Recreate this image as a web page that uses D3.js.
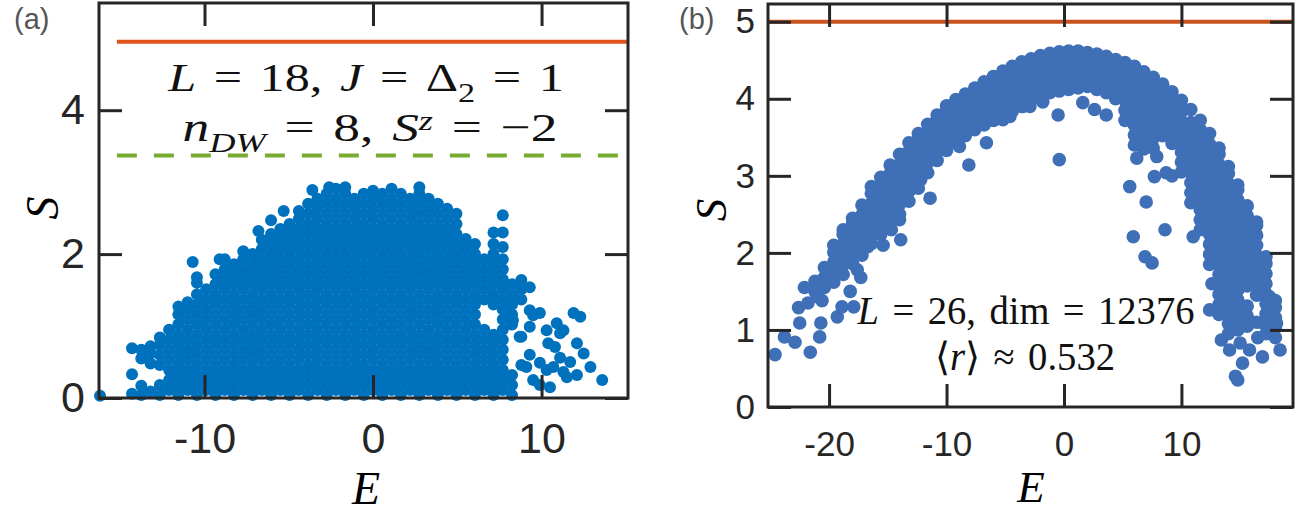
<!DOCTYPE html>
<html>
<head>
<meta charset="utf-8">
<script src="https://cdn.jsdelivr.net/npm/d3@7"></script>
<style>
  body { margin: 0; background: #fff; }
</style>
</head>
<body>
<div id="chart"></div>
<script>
// ---------- panel (a) : L = 18 ----------
// columns of eigenstates: [E, [S values]]
const aColumns = [
  [-14.3, [0.06, 0.33, 0.69]],
  [-13.75, [0.04, 0.17, 0.55, 0.67]],
  [-13.2, [0.09, 0.48, 0.62, 0.72]],
  [-12.65, [0.04, 0.18, 0.46, 0.6, 0.74, 0.84]],
  [-12.1, [0.11, 0.25, 0.39, 0.53, 0.67, 0.81, 0.95]],
  [-11.55, [0.04, 0.18, 0.32, 0.46, 0.6, 0.74, 0.88, 1.02, 1.16, 1.27]],
  [-11.0, [0.11, 0.25, 0.39, 0.53, 0.67, 0.81, 0.95, 1.09, 1.23, 1.33]],
  [-10.45, [0.04, 0.18, 0.32, 0.46, 0.6, 0.74, 0.88, 1.02, 1.16, 1.3, 1.44, 1.6, 1.68]],
  [-9.9, [0.11, 0.25, 0.39, 0.53, 0.67, 0.81, 0.95, 1.09, 1.23, 1.37, 1.51]],
  [-9.35, [0.04, 0.18, 0.32, 0.46, 0.6, 0.74, 0.88, 1.02, 1.16, 1.3, 1.44, 1.58, 1.72]],
  [-8.8, [0.11, 0.25, 0.39, 0.53, 0.67, 0.81, 0.95, 1.09, 1.23, 1.37, 1.51, 1.65, 1.79, 1.93]],
  [-8.25, [0.04, 0.18, 0.32, 0.46, 0.6, 0.74, 0.88, 1.02, 1.16, 1.3, 1.44, 1.58, 1.72, 1.86]],
  [-7.7, [0.11, 0.25, 0.39, 0.53, 0.67, 0.81, 0.95, 1.09, 1.23, 1.37, 1.51, 1.65, 1.79, 1.93, 2.04]],
  [-7.15, [0.04, 0.18, 0.32, 0.46, 0.6, 0.74, 0.88, 1.02, 1.16, 1.3, 1.44, 1.58, 1.72, 1.86, 2.0]],
  [-6.6, [0.11, 0.25, 0.39, 0.53, 0.67, 0.81, 0.95, 1.09, 1.23, 1.37, 1.51, 1.65, 1.79, 1.93, 2.07, 2.2]],
  [-6.05, [0.04, 0.18, 0.32, 0.46, 0.6, 0.74, 0.88, 1.02, 1.16, 1.3, 1.44, 1.58, 1.72, 1.86, 2.0, 2.14, 2.28, 2.47]],
  [-5.5, [0.11, 0.25, 0.39, 0.53, 0.67, 0.81, 0.95, 1.09, 1.23, 1.37, 1.51, 1.65, 1.79, 1.93, 2.07, 2.21, 2.35]],
  [-4.95, [0.04, 0.18, 0.32, 0.46, 0.6, 0.74, 0.88, 1.02, 1.16, 1.3, 1.44, 1.58, 1.72, 1.86, 2.0, 2.14, 2.28, 2.42]],
  [-4.4, [0.11, 0.25, 0.39, 0.53, 0.67, 0.81, 0.95, 1.09, 1.23, 1.37, 1.51, 1.65, 1.79, 1.93, 2.07, 2.21, 2.35, 2.49, 2.6]],
  [-3.85, [0.04, 0.18, 0.32, 0.46, 0.6, 0.74, 0.88, 1.02, 1.16, 1.3, 1.44, 1.58, 1.72, 1.86, 2.0, 2.14, 2.28, 2.42, 2.56, 2.7]],
  [-3.3, [0.11, 0.25, 0.39, 0.53, 0.67, 0.81, 0.95, 1.09, 1.23, 1.37, 1.51, 1.65, 1.79, 1.93, 2.07, 2.21, 2.35, 2.49, 2.63, 2.77]],
  [-2.75, [0.04, 0.18, 0.32, 0.46, 0.6, 0.74, 0.88, 1.02, 1.16, 1.3, 1.44, 1.58, 1.72, 1.86, 2.0, 2.14, 2.28, 2.42, 2.56, 2.7, 2.84]],
  [-2.2, [0.11, 0.25, 0.39, 0.53, 0.67, 0.81, 0.95, 1.09, 1.23, 1.37, 1.51, 1.65, 1.79, 1.93, 2.07, 2.21, 2.35, 2.49, 2.63, 2.77, 2.91]],
  [-1.65, [0.04, 0.18, 0.32, 0.46, 0.6, 0.74, 0.88, 1.02, 1.16, 1.3, 1.44, 1.58, 1.72, 1.86, 2.0, 2.14, 2.28, 2.42, 2.56, 2.7, 2.84, 2.93]],
  [-1.1, [0.11, 0.25, 0.39, 0.53, 0.67, 0.81, 0.95, 1.09, 1.23, 1.37, 1.51, 1.65, 1.79, 1.93, 2.07, 2.21, 2.35, 2.49, 2.63, 2.77]],
  [-0.55, [0.04, 0.18, 0.32, 0.46, 0.6, 0.74, 0.88, 1.02, 1.16, 1.3, 1.44, 1.58, 1.72, 1.86, 2.0, 2.14, 2.28, 2.42, 2.56, 2.7, 2.84]],
  [0.0, [0.11, 0.25, 0.39, 0.53, 0.67, 0.81, 0.95, 1.09, 1.23, 1.37, 1.51, 1.65, 1.79, 1.93, 2.07, 2.21, 2.35, 2.49, 2.63, 2.77, 2.88]],
  [0.55, [0.04, 0.18, 0.32, 0.46, 0.6, 0.74, 0.88, 1.02, 1.16, 1.3, 1.44, 1.58, 1.72, 1.86, 2.0, 2.14, 2.28, 2.42, 2.56, 2.7, 2.84]],
  [1.1, [0.11, 0.25, 0.39, 0.53, 0.67, 0.81, 0.95, 1.09, 1.23, 1.37, 1.51, 1.65, 1.79, 1.93, 2.07, 2.21, 2.35, 2.49, 2.63, 2.77, 2.91]],
  [1.65, [0.04, 0.18, 0.32, 0.46, 0.6, 0.74, 0.88, 1.02, 1.16, 1.3, 1.44, 1.58, 1.72, 1.86, 2.0, 2.14, 2.28, 2.42, 2.56, 2.7, 2.84]],
  [2.2, [0.11, 0.25, 0.39, 0.53, 0.67, 0.81, 0.95, 1.09, 1.23, 1.37, 1.51, 1.65, 1.79, 1.93, 2.07, 2.21, 2.35, 2.49, 2.63, 2.77]],
  [2.75, [0.04, 0.18, 0.32, 0.46, 0.6, 0.74, 0.88, 1.02, 1.16, 1.3, 1.44, 1.58, 1.72, 1.86, 2.0, 2.14, 2.28, 2.42, 2.56, 2.7, 2.84, 2.93]],
  [3.3, [0.11, 0.25, 0.39, 0.53, 0.67, 0.81, 0.95, 1.09, 1.23, 1.37, 1.51, 1.65, 1.79, 1.93, 2.07, 2.21, 2.35, 2.49, 2.63, 2.77]],
  [3.85, [0.04, 0.18, 0.32, 0.46, 0.6, 0.74, 0.88, 1.02, 1.16, 1.3, 1.44, 1.58, 1.72, 1.86, 2.0, 2.14, 2.28, 2.42, 2.56, 2.7]],
  [4.4, [0.11, 0.25, 0.39, 0.53, 0.67, 0.81, 0.95, 1.09, 1.23, 1.37, 1.51, 1.65, 1.79, 1.93, 2.07, 2.21, 2.35, 2.49, 2.63]],
  [4.95, [0.04, 0.18, 0.32, 0.46, 0.6, 0.74, 0.88, 1.02, 1.16, 1.3, 1.44, 1.58, 1.72, 1.86, 2.0, 2.14, 2.28, 2.42, 2.56]],
  [5.5, [0.11, 0.25, 0.39, 0.53, 0.67, 0.81, 0.95, 1.09, 1.23, 1.37, 1.51, 1.65, 1.79, 1.93, 2.07, 2.21]],
  [6.05, [0.04, 0.18, 0.32, 0.46, 0.6, 0.74, 0.88, 1.02, 1.16, 1.3, 1.44, 1.58, 1.72, 1.86, 2.0, 2.14]],
  [6.6, [0.11, 0.25, 0.39, 0.53, 0.67, 0.81, 0.95, 1.37, 1.51, 1.65, 1.79, 1.93]],
  [7.15, [0.04, 0.18, 0.32, 0.46, 0.6, 0.74, 0.88, 1.3, 1.44, 1.58, 1.72, 1.86, 2.0, 2.14, 2.3]],
  [7.7, [0.11, 0.25, 0.39, 0.53, 0.67, 0.81, 0.95, 1.09, 1.23, 1.37, 1.51, 1.65, 1.79, 1.93, 2.1, 2.3, 2.54]],
  [8.25, [0.04, 0.18, 0.32, 1.02, 1.16, 1.3, 1.44, 1.58]],
  [8.8, [0.46, 0.85, 1.37, 1.51, 1.64]],
  [9.3, [0.6, 0.99, 1.22, 1.54]]
];
// isolated states: [E, S]
const aScattered = [
  [-16.2, 0.03], [-10.7, 1.89], [-9.1, 1.93], [-6.8, 2.32], [-5.3, 2.6], [-3.6, 2.89], [-2.6, 2.93],
  [9.1, 0.43], [9.5, 0.25], [9.9, 0.18], [10.5, 0.15], [9.9, 0.49], [10.3, 0.39], [10.7, 0.43],
  [11.3, 0.36], [11.5, 0.29], [12.1, 0.32], [12.9, 0.43], [13.6, 0.25], [11.1, 0.56], [11.7, 0.5],
  [12.5, 0.62], [12.1, 0.76], [10.4, 0.76], [10.8, 0.71], [10.3, 0.94], [10.9, 1.04], [11.1, 0.9],
  [11.3, 0.94], [9.5, 1.15], [9.9, 1.18], [11.9, 1.18], [12.3, 1.13], [8.7, 0.85], [7.9, 1.18], [8.3, 1.08]
];
const aXTicks = [-10, 0, 10];
const aYTicks = [0, 2, 4];
const aXDomain = [-16.26, 15.13];
const aYDomain = [0, 5.49];
const aOrangeLevel = 4.95;   // solid line
const aGreenLevel = 3.37;    // dashed line
const aLineStart = -15.2;

// ---------- panel (b) : L = 26 ----------
const bColumns = [
  [-21.2, [1.5, 1.63]],
  [-20.4, [1.55, 1.68, 1.81]],
  [-19.6, [1.62, 1.75, 1.88, 2.01, 2.1]],
  [-18.8, [1.72, 1.85, 1.98, 2.11, 2.24, 2.3]],
  [-18.0, [1.86, 1.99, 2.12, 2.25, 2.38, 2.45]],
  [-17.2, [1.97, 2.1, 2.23, 2.36, 2.49, 2.62]],
  [-16.4, [2.12, 2.25, 2.38, 2.51, 2.64, 2.77, 2.86]],
  [-15.6, [2.24, 2.37, 2.5, 2.63, 2.76, 2.89, 2.98]],
  [-14.8, [2.38, 2.51, 2.64, 2.77, 2.9, 3.03, 3.14]],
  [-14.0, [2.5, 2.63, 2.76, 2.89, 3.02, 3.15, 3.28]],
  [-13.2, [2.67, 2.8, 2.93, 3.06, 3.19, 3.32, 3.43]],
  [-12.4, [2.84, 2.97, 3.1, 3.23, 3.36, 3.49, 3.55]],
  [-11.6, [3.04, 3.17, 3.3, 3.43, 3.56, 3.67]],
  [-10.8, [3.2, 3.33, 3.46, 3.59, 3.72, 3.79]],
  [-10.0, [3.33, 3.46, 3.59, 3.72, 3.85, 3.91]],
  [-9.2, [3.44, 3.57, 3.7, 3.83, 3.96, 3.99]],
  [-8.4, [3.52, 3.65, 3.78, 3.91, 4.04, 4.06]],
  [-7.6, [3.6, 3.73, 3.86, 3.99, 4.12, 4.14]],
  [-6.8, [3.66, 3.79, 3.92, 4.05, 4.18, 4.22]],
  [-6.0, [3.72, 3.85, 3.98, 4.11, 4.24, 4.29]],
  [-5.2, [3.78, 3.91, 4.04, 4.17, 4.3, 4.36]],
  [-4.4, [3.84, 3.97, 4.1, 4.23, 4.36, 4.42]],
  [-3.6, [3.9, 4.03, 4.16, 4.29, 4.42, 4.48]],
  [-2.8, [3.98, 4.11, 4.24, 4.37, 4.5, 4.52]],
  [-2.0, [4.03, 4.16, 4.29, 4.42, 4.55, 4.56]],
  [-1.2, [4.08, 4.21, 4.34, 4.47, 4.59]],
  [-0.4, [4.1, 4.23, 4.36, 4.49, 4.61]],
  [0.4, [4.12, 4.25, 4.38, 4.51, 4.62]],
  [1.2, [4.14, 4.27, 4.4, 4.53, 4.62]],
  [2.0, [4.16, 4.29, 4.42, 4.55, 4.6]],
  [2.8, [4.12, 4.25, 4.38, 4.51, 4.58]],
  [3.6, [4.08, 4.21, 4.34, 4.47, 4.55]],
  [4.4, [4.0, 4.13, 4.26, 4.39, 4.51]],
  [5.2, [3.72, 3.85, 3.98, 4.11, 4.24, 4.37, 4.47]],
  [6.0, [3.4, 3.53, 3.66, 3.79, 3.92, 4.05, 4.18, 4.31, 4.42]],
  [6.8, [3.35, 3.48, 3.61, 3.74, 3.87, 4.0, 4.13, 4.26, 4.35]],
  [7.6, [3.36, 3.49, 3.62, 3.75, 3.88, 4.01, 4.14, 4.28]],
  [8.4, [3.52, 3.65, 3.78, 3.91, 4.04, 4.19]],
  [9.2, [3.42, 3.55, 3.68, 3.81, 3.94, 4.09]],
  [10.0, [3.05, 3.18, 3.31, 3.44, 3.57, 3.7, 3.83, 3.98]],
  [10.8, [2.65, 2.78, 2.91, 3.04, 3.17, 3.3, 3.43, 3.56, 3.69, 3.86]],
  [11.6, [2.3, 2.43, 2.56, 2.69, 2.82, 2.95, 3.08, 3.21, 3.34, 3.47, 3.6, 3.72]],
  [12.4, [1.85, 1.98, 2.11, 2.24, 2.37, 2.5, 2.63, 2.76, 2.89, 3.02, 3.15, 3.28, 3.41, 3.55]],
  [13.2, [1.2, 1.33, 1.46, 1.59, 1.72, 1.85, 1.98, 2.11, 2.24, 2.37, 2.5, 2.63, 2.76, 2.89, 3.02, 3.15, 3.28, 3.36]],
  [14.0, [0.95, 1.08, 1.21, 1.34, 1.47, 1.6, 1.73, 1.86, 1.99, 2.12, 2.25, 2.38, 2.51, 2.64, 2.77, 2.9, 3.03, 3.12]],
  [14.8, [1.0, 1.13, 1.26, 1.39, 1.52, 1.65, 1.78, 1.91, 2.04, 2.17, 2.3, 2.43, 2.56, 2.69, 2.82, 2.88]],
  [15.6, [1.05, 1.18, 1.31, 1.57, 1.7, 1.83, 1.96, 2.09, 2.22, 2.35, 2.48, 2.61]],
  [16.4, [1.1, 1.45, 1.58, 1.71, 1.84, 1.97, 2.1, 2.23, 2.36, 2.4]],
  [17.2, [0.95, 1.08, 1.21, 1.34, 1.47, 1.6, 1.73, 1.86, 1.95]],
  [18.0, [0.9, 1.03, 1.16, 1.29, 1.38]]
];
const bScattered = [
  [-24.6, 0.68], [-23.8, 0.91], [-22.9, 0.84], [-22.5, 1.09], [-22.6, 1.29], [-21.6, 0.71],
  [-20.8, 0.91], [-20.7, 1.09], [-22.1, 1.55], [-21.8, 1.35], [-21.0, 1.43], [-20.6, 1.38],
  [-19.3, 1.17], [-18.9, 1.3], [-18.2, 1.5], [-17.9, 1.3], [-17.3, 1.68], [-17.6, 1.78], [-16.7, 2.08],
  [-15.4, 2.1], [-14.7, 2.3], [-13.9, 2.17], [-14.0, 2.43], [-12.2, 2.95], [-11.4, 2.71],
  [-8.9, 3.38], [-8.1, 3.14], [-6.6, 3.43], [-5.2, 3.73], [-4.6, 3.77], [-3.5, 3.9], [-2.9, 3.9],
  [-1.8, 3.96], [-0.5, 3.79], [-0.4, 3.21], [1.6, 3.95], [2.6, 3.86], [3.6, 3.79],
  [6.2, 3.23], [5.6, 2.86], [7.0, 2.66], [5.9, 2.21], [6.9, 1.95], [7.5, 1.87], [8.6, 2.3], [11.0, 2.21],
  [7.9, 3.25], [8.7, 3.04], [7.7, 2.99], [9.2, 3.0],
  [12.4, 1.26], [12.6, 1.6], [13.4, 0.87], [14.1, 0.74], [14.6, 0.4], [14.8, 0.35], [15.2, 0.57],
  [15.0, 0.83], [15.8, 0.74], [16.9, 0.65], [18.4, 0.74], [18.1, 1.09], [16.9, 1.09], [17.5, 1.43],
  [15.8, 1.09], [16.5, 0.9]
];
const bXTicks = [-20, -10, 0, 10];
const bYTicks = [0, 1, 2, 3, 4, 5];
const bXDomain = [-25.2, 19.5];
const bYDomain = [0, 5.23];
const bOrangeLevel = 5.0;

// ---------- drawing ----------
const svg = d3.select("#chart").append("svg")
  .attr("width", 1300)
  .attr("height", 513);

const axisColor = "#262626";
const sansFont = "'Liberation Sans', Arial, Helvetica, sans-serif";
const serifFont = "'Liberation Serif', 'Times New Roman', serif";

function toPoints(cols, extra) {
  const pts = [];
  cols.forEach(([e, ss]) => ss.forEach(s => pts.push([e, s])));
  return pts.concat(extra);
}

function drawPanel(p) {
  const x = d3.scaleLinear().domain(p.xDomain).range([p.left, p.right]);
  const y = d3.scaleLinear().domain(p.yDomain).range([p.bottom, p.top]);
  const g = svg.append("g");

  // 散點
  g.append("g").selectAll("circle")
    .data(p.points)
    .enter()
    .append("circle")
    .attr("cx", d => x(d[0]))
    .attr("cy", d => y(d[1]))
    .attr("r", p.r)
    .attr("fill", p.dotColor);

  // 參考線
  p.lines.forEach(l => {
    g.append("line")
      .attr("x1", x(l.from)).attr("x2", x(l.to))
      .attr("y1", y(l.level)).attr("y2", y(l.level))
      .attr("stroke", l.color)
      .attr("stroke-width", 4)
      .attr("stroke-dasharray", l.dash || null);
  });

  const fmt = d => String(d);
  const tick = 23;

  // 下、左軸 (含標籤)
  const xb = g.append("g")
    .attr("transform", `translate(0,${p.bottom})`)
    .call(d3.axisBottom(x).tickValues(p.xTicks).tickSize(-tick).tickPadding(p.xPad).tickFormat(fmt));
  const yl = g.append("g")
    .attr("transform", `translate(${p.left},0)`)
    .call(d3.axisLeft(y).tickValues(p.yTicks).tickSize(-tick).tickPadding(p.yPad).tickFormat(fmt));
  // 上、右軸 (只有刻度)
  const xt = g.append("g")
    .attr("transform", `translate(0,${p.top})`)
    .call(d3.axisTop(x).tickValues(p.xTicks).tickSize(-tick).tickFormat(""));
  const yr = g.append("g")
    .attr("transform", `translate(${p.right},0)`)
    .call(d3.axisRight(y).tickValues(p.yTicks).tickSize(-tick).tickFormat(""));

  [xb, yl, xt, yr].forEach(a => {
    a.select(".domain").remove();
    a.selectAll("line").attr("stroke", axisColor).attr("stroke-width", 3);
    a.selectAll("text")
      .attr("fill", axisColor)
      .style("font-family", sansFont)
      .style("font-size", p.tickFont + "px");
  });

  // 外框
  g.append("rect")
    .attr("x", p.left).attr("y", p.top)
    .attr("width", p.right - p.left).attr("height", p.bottom - p.top)
    .attr("fill", "none")
    .attr("stroke", axisColor)
    .attr("stroke-width", 3);

  // 軸標題
  g.append("text")
    .attr("x", p.eLabel[0]).attr("y", p.eLabel[1])
    .attr("text-anchor", "middle")
    .style("font-family", serifFont)
    .style("font-style", "italic")
    .style("font-size", p.labelFont + "px")
    .text("E");
  g.append("text")
    .attr("transform", `translate(${p.sLabel[0]},${p.sLabel[1]}) rotate(-90)`)
    .attr("text-anchor", "middle")
    .style("font-family", serifFont)
    .style("font-style", "italic")
    .style("font-size", p.labelFont + "px")
    .text("S");

  // 面板編號
  g.append("text")
    .attr("x", p.tag[0]).attr("y", p.tag[1])
    .style("font-family", sansFont)
    .style("font-size", "29px")
    .attr("fill", "#555")
    .text(p.tagText);
}

// 數學式文字, 水平縮放到參考圖的寬度
function mathText(cx, y0, size, width, parts) {
  const g = svg.append("g");
  const t = g.append("text")
    .attr("x", 0).attr("y", 0)
    .attr("text-anchor", "middle")
    .style("font-family", serifFont)
    .style("font-size", size + "px")
    .style("word-spacing", "0.1em")
    .attr("fill", "#111");
  let shift = 0;
  parts.forEach(([str, st]) => {
    const target = st.includes("sub") ? 0.26 * size : st.includes("sup") ? -0.27 * size : 0;
    const ts = t.append("tspan").attr("dy", target - shift).text(str);
    shift = target;
    if (st.startsWith("i")) ts.style("font-style", "italic");
    if (target !== 0) ts.style("font-size", (0.68 * size) + "px");
  });
  const w = t.node().getBBox().width;
  g.attr("transform", `translate(${cx},${y0}) scale(${width / w},1)`);
}

drawPanel({
  left: 99, right: 628, top: 3, bottom: 398,
  xDomain: aXDomain, yDomain: aYDomain,
  xTicks: aXTicks, yTicks: aYTicks,
  points: toPoints(aColumns, aScattered),
  r: 6, dotColor: "#0072BD",
  lines: [
    { level: aOrangeLevel, from: aLineStart, to: aXDomain[1], color: "#E0531C" },
    { level: aGreenLevel, from: aLineStart, to: aXDomain[1], color: "#77AC30", dash: "20 17" }
  ],
  xPad: 24, yPad: 14, tickFont: 43, labelFont: 46,
  eLabel: [366, 504], sLabel: [58, 208],
  tag: [14, 29], tagText: "(a)"
});

drawPanel({
  left: 768, right: 1293, top: 4, bottom: 407,
  xDomain: bXDomain, yDomain: bYDomain,
  xTicks: bXTicks, yTicks: bYTicks,
  points: toPoints(bColumns, bScattered),
  r: 6.8, dotColor: "#3F6FB6",
  lines: [
    { level: bOrangeLevel, from: bXDomain[0], to: bXDomain[1], color: "#C8531E" }
  ],
  xPad: 24, yPad: 13, tickFont: 35, labelFont: 45,
  eLabel: [1031, 502], sLabel: [726, 210],
  tag: [679, 29], tagText: "(b)"
});

// 註解文字
mathText(366, 91, 41, 397, [["L", "i"], [" = 18, ", ""], ["J", "i"], [" = Δ", ""], ["2", "sub"], [" = 1", ""]]);
mathText(370, 141, 41, 375, [["n", "i"], ["DW", "isub"], [" = 8, ", ""], ["S", "i"], ["z", "isup"], [" = −2", ""]]);
mathText(1026, 324, 39, 338, [["L", "i"], [" = 26, dim = 12376", ""]]);
mathText(1025, 370, 39, 180, [["⟨", ""], ["r", "i"], ["⟩ ≈ 0.532", ""]]);
</script>
</body>
</html>
